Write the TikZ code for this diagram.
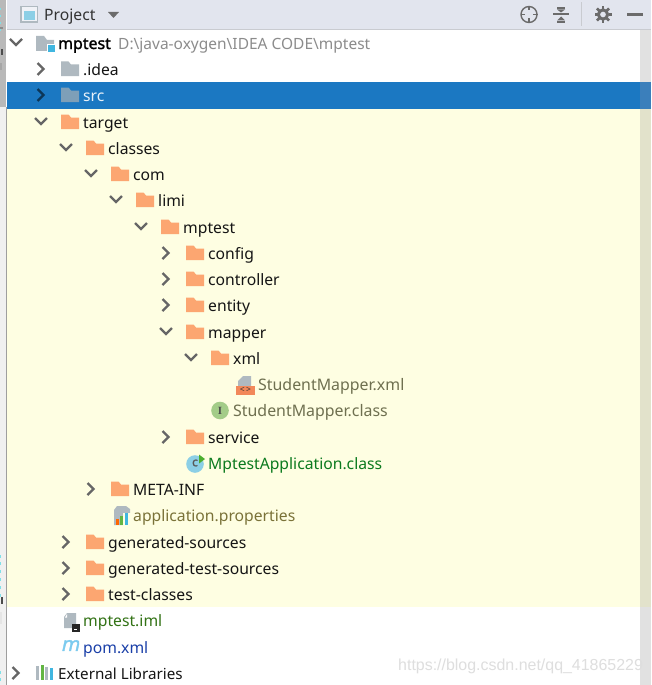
\documentclass[tikz,border=0pt]{standalone}
\usepackage{fontspec}
\setmainfont{Noto Sans}
\newfontfamily\rootfont[FakeBold=1.6]{Noto Sans}
\newfontfamily\mfont[FakeBold=1.8,FakeSlant=0.22]{Noto Sans}
\newfontfamily\wmfont{Liberation Sans}
\newfontfamily\ifont{Liberation Serif}
\definecolor{hdr}{HTML}{E2E5EE}
\definecolor{hline}{HTML}{C9CBD0}
\definecolor{sel}{HTML}{1B78C2}
\definecolor{sbarsel}{HTML}{3B7FBB}
\definecolor{ylw}{HTML}{FEFEE2}
\definecolor{sbar}{HTML}{E1E1E1}
\definecolor{sbary}{HTML}{E2E2CB}
\definecolor{strip}{HTML}{B9B9B9}
\definecolor{stripl}{HTML}{F0F0F0}
\definecolor{stripd}{HTML}{9E9E9E}
\definecolor{fold}{HTML}{FCA671}
\definecolor{gfold}{HTML}{AFB9C0}
\definecolor{sfold}{HTML}{7E9FB8}
\definecolor{chev}{HTML}{666666}
\definecolor{txt}{HTML}{151515}
\definecolor{olive}{HTML}{7A7238}
\definecolor{grolive}{HTML}{6F7050}
\definecolor{dgreen}{HTML}{0B7A1E}
\definecolor{lgreen}{HTML}{3F8F1A}
\definecolor{pblue}{HTML}{1A3FA8}
\definecolor{ggrey}{HTML}{8C8C8C}
\definecolor{tool}{HTML}{6B6B6B}
\definecolor{iconblue}{HTML}{40B6E0}
\definecolor{classblue}{HTML}{8CCFE6}
\definecolor{intgreen}{HTML}{A3CC88}
\definecolor{xmlband}{HTML}{F2885A}
\definecolor{flag}{HTML}{4CAF2F}
\definecolor{mblue}{HTML}{7CCBEF}
\definecolor{libgreen}{HTML}{62B543}
\definecolor{dotc}{HTML}{7FE0E8}
\tikzset{
  x=1pt,y=-1pt,
  lab/.style={anchor=west,inner sep=0pt,font=\fontsize{15.7}{18}\selectfont,text=txt,text height=15.5pt,text depth=3.5pt},
  chevline/.style={draw=chev,line width=2.3pt,line cap=butt,line join=miter},
}
\newcommand{\foldr}[3]{\fill[#3] (#1,#2-7.5) -- (#1+7.5,#2-7.5) -- (#1+10,#2-4.5) -- (#1+18,#2-4.5) -- (#1+18,#2+7) -- (#1,#2+7) -- cycle;}
\newcommand{\chevr}[3][chev]{\draw[chevline,draw=#1] (#2-3.5,#3-6) -- (#2+2.5,#3) -- (#2-3.5,#3+6);}
\newcommand{\chevd}[2]{\draw[chevline] (#1-6,#2-3) -- (#1,#2+3) -- (#1+6,#2-3);}
\begin{document}
\begin{tikzpicture}
\useasboundingbox (0,0) rectangle (651,685);
\fill[white] (0,0) rectangle (651,685);
% left strip
\fill[stripl] (0,0) rectangle (6,685);
\fill[strip] (0,0) rectangle (6,107);
\fill[stripd] (6,107) rectangle (7,685);
\foreach \yy in {8,15,22,29,555,562,570,578,586,594,671,678}{\fill[dotc] (0,\yy) rectangle (1,\yy+2.5);}
\fill[black!70] (1,49) rectangle (3,55);
\fill[black!45] (0,27) rectangle (2.5,29);
\fill[black!35] (0,63) rectangle (2,70);
\fill[black!70] (1,597) rectangle (3,604);
\fill[black!10] (0,612) rectangle (2,624);
% header
\fill[hdr] (7,0) rectangle (651,29);
\fill[hline] (7,29) rectangle (651,30);
% rows
\fill[sel] (7,82) rectangle (640,108.5);
\fill[ylw] (7,108.5) rectangle (640,607);
% scrollbar
\fill[sbar] (640,30) rectangle (651,685);
\fill[sbarsel] (640,82) rectangle (651,108.5);
\fill[sbary] (640,108.5) rectangle (651,607);
% header content
\fill[gfold] (20,6) rectangle (38,23);
\fill[hdr!50!white] (21.5,7.5) rectangle (36.5,21.5);
\fill[classblue] (23.5,11.5) rectangle (35,20);
\node[lab,text=black!80] (project) at (44,14.5) {Project};
\fill[tool] (108,12) -- (119,12) -- (113.5,18) -- cycle;
% tool icons
\draw[tool,line width=1.4pt] (529,14.5) circle (8);
\draw[tool,line width=1.6pt] (529,6) -- (529,10.5) (529,18.5) -- (529,23) (520.5,14.5) -- (525,14.5) (533,14.5) -- (537.5,14.5);
\fill[tool] (553,13.5) rectangle (569,15.5);
\fill[tool] (557,7) rectangle (565,8.6);
\fill[tool] (557,9.5) -- (565,9.5) -- (561,12.5) -- cycle;
\fill[tool] (557,21.5) rectangle (565,23);
\fill[tool] (561,16.5) -- (565,20.5) -- (557,20.5) -- cycle;
\fill[hline] (581,2) rectangle (582,26);
\draw[tool,line width=3pt] (603,14.5) circle (4.6);
\foreach \a in {0,45,...,315}{\draw[tool,line width=2.6pt] (603,14.5) ++(\a:5.5) -- ++(\a:3);}
\fill[tool] (627,13.5) rectangle (643,15.8);
% tree
\chevd{16}{42}
\fill[gfold] (36,36) -- (44,36) -- (47,40) -- (54,40) -- (54,51) -- (36,51) -- cycle;
\fill[white] (47,44) rectangle (56,54);
\fill[iconblue] (48,45) rectangle (55,52);
\node[lab,font=\fontsize{15.9}{18}\selectfont\rootfont,text=black] (root) at (58,43) {mptest};
\node[lab,font=\fontsize{15.5}{18}\selectfont,text=ggrey] (rootpath) at (118,43) {D:\textbackslash java-oxygen\textbackslash IDEA CODE\textbackslash mptest};
\chevr{41}{69}\foldr{61}{69}{gfold}
\node[lab] (idea) at (83,69) {.idea};
\chevr[black!55!sel]{41}{95}\foldr{61}{95}{sfold}
\node[lab,text=white!90!sel] (src) at (83,95) {src};
\chevd{41}{121}\foldr{61}{122}{fold}
\node[lab] (target) at (83,122) {target};
\chevd{66}{147}\foldr{86}{148}{fold}
\node[lab] (classes) at (108,148) {classes};
\chevd{91}{173}\foldr{111}{174}{fold}
\node[lab] (com) at (133,174) {com};
\chevd{116}{199}\foldr{136}{200}{fold}
\node[lab] (limi) at (158,200) {limi};
\chevd{141}{226}\foldr{161}{227}{fold}
\node[lab] (mptestp) at (183,227) {mptest};
\chevr{166}{253}\foldr{186}{253}{fold}
\node[lab] (config) at (208,253) {config};
\chevr{166}{279}\foldr{186}{279}{fold}
\node[lab] (controller) at (208,279) {controller};
\chevr{166}{305}\foldr{186}{305}{fold}
\node[lab] (entity) at (208,305) {entity};
\chevd{166}{331}\foldr{186}{332}{fold}
\node[lab] (mapper) at (208,332) {mapper};
\chevd{191}{357}\foldr{211}{358}{fold}
\node[lab] (xml) at (233,358) {xml};
% xml file icon
\fill[gfold] (243,376) -- (251,376) -- (251,386) -- (238,386) -- (238,381) -- cycle;
\fill[xmlband] (236,386) rectangle (255,395);
\node[inner sep=0pt,font=\fontsize{8.5}{9}\selectfont,text=black!80] (xmlglyph) at (245.5,389.8) {<\kern1.5pt>};
\node[lab,font=\fontsize{15.9}{18}\selectfont,text=grolive] (smxml) at (258,384) {StudentMapper.xml};
% interface icon
\fill[intgreen] (220,410.5) circle (8.8);
\node[inner sep=0pt,font=\fontsize{11}{12}\selectfont\ifont\bfseries,text=black!70] (iglyph) at (220,410.5) {I};
\node[lab,font=\fontsize{15.9}{18}\selectfont,text=grolive] (smclass) at (233,410) {StudentMapper.class};
\chevr{166}{437}\foldr{186}{437}{fold}
\node[lab] (service) at (208,437) {service};
% class icon
\fill[classblue] (195,464) circle (8.8);
\node[inner sep=0pt,font=\fontsize{12}{13}\selectfont\rootfont,text=black!65] (cglyph) at (195,463) {c};
\fill[flag] (199,454.5) -- (205,459) -- (199,463.5) -- cycle;
\node[lab,text=dgreen] (mpapp) at (208,463) {MptestApplication.class};
\chevr{91}{489}\foldr{111}{489}{fold}
\node[lab] (meta) at (133,489) {META-INF};
% properties icon
\fill[gfold] (117,506) -- (126,506) -- (130,509) -- (130,525) -- (114,525) -- (114,510) -- cycle;
\fill[ylw] (123,513) rectangle (131,526);
\fill[orange!80!red] (116,519) rectangle (119,525);
\fill[libgreen] (120,516) rectangle (123,525);
\fill[iconblue] (125,513) rectangle (128,525);
\node[lab,text=olive] (appprops) at (133,515) {application.properties};
\chevr{66}{542}\foldr{86}{542}{fold}
\node[lab] (gensrc) at (108,542) {generated-sources};
\chevr{66}{568}\foldr{86}{568}{fold}
\node[lab] (gentest) at (108,568) {generated-test-sources};
\chevr{66}{594}\foldr{86}{594}{fold}
\node[lab] (testcl) at (108,594) {test-classes};
% iml icon
\fill[gfold] (67,613) -- (76,613) -- (76,628) -- (64,628) -- (64,617) -- cycle;
\fill[white] (67,614) -- (67,617.5) -- (65,617.5) -- cycle;
\fill[black!85] (72,624) rectangle (80,632);
\fill[white] (74,629) rectangle (77,630);
\node[lab,text=lgreen!80!black] (iml) at (83,620) {mptest.iml};
% pom icon
\node[inner sep=0pt,font=\fontsize{19.5}{21}\selectfont\mfont,text=mblue] (mglyph) at (70,645.5) {m};
\node[lab,text=pblue] (pom) at (83,647) {pom.xml};
\chevr{16}{673}
% libraries icon
\fill[gfold] (36,666) rectangle (39,680);
\fill[libgreen] (40.5,665) rectangle (43.5,680);
\fill[gfold] (45,667) rectangle (48,680);
\fill[iconblue] (49.5,668) rectangle (52.5,680);
\node[lab,font=\fontsize{15.2}{18}\selectfont] (extlib) at (58,673) {External Libraries};
% watermark
\node[anchor=west,inner sep=0pt,font=\fontsize{15.95}{17}\selectfont\wmfont,text=black!13] (wm) at (398,666) {https://blog.csdn.net/qq\_41865229};
\end{tikzpicture}
\end{document}
